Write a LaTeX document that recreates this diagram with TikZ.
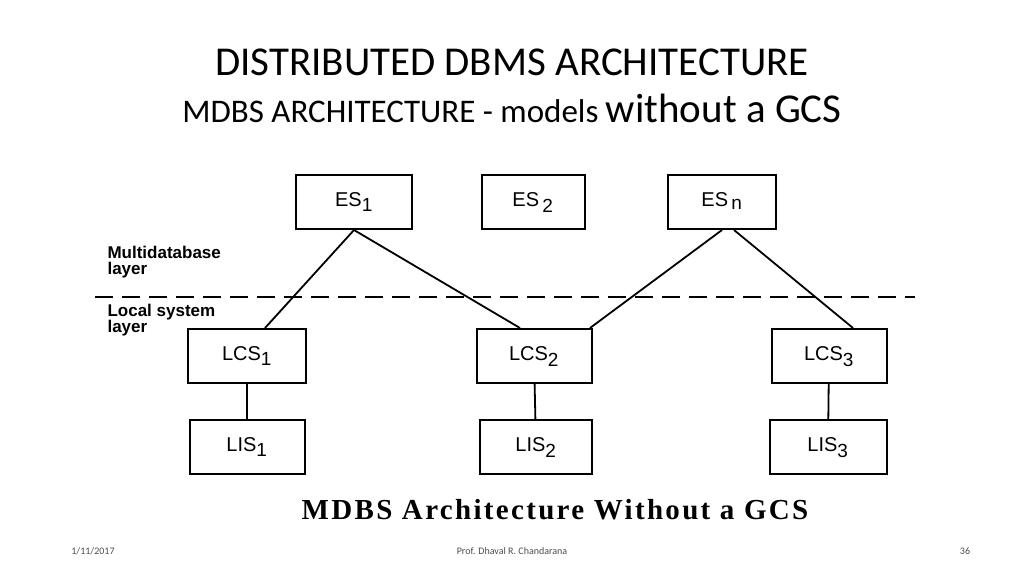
\documentclass[tikz,border=0pt]{standalone}
\usepackage{fontspec}
\setmainfont{Carlito}
\newfontfamily\boxfont{Liberation Sans}
\newfontfamily\capfont[LetterSpace=8]{Liberation Serif}
\usetikzlibrary{positioning}
\newcommand{\sub}[1]{\textsubscript{\fontsize{19}{19}\selectfont #1}}
\tikzset{
    sys_box/.style={rectangle, draw=black, line width=2pt, minimum width=112pt, minimum height=54pt, text height=14pt, text depth=6pt, text centered, font=\boxfont\fontsize{20}{22}\selectfont},
    layer_text/.style={align=left, anchor=north west, font=\boxfont\bfseries\fontsize{17}{17}\selectfont},
    line/.style={line width=1.8pt},
    footer/.style={font=\fontsize{10}{12}\selectfont, text=black!70},
}
\begin{document}
\begin{tikzpicture}[x=1pt, y=-1pt]
      \useasboundingbox (0,0) rectangle (1024,576);
      %%%%%%%%%
      % Title %
      %%%%%%%%%
      \node (title) at (512,62) {\fontsize{41}{46}\selectfont DISTRIBUTED DBMS ARCHITECTURE};
      \node (subtitle) at (512,108) {\fontsize{33}{38}\selectfont MDBS ARCHITECTURE - models \fontsize{41}{46}\selectfont without a GCS};

      %%%%%%%%%%%%%
      % Ext. sch. %
      %%%%%%%%%%%%%
      \node (es1) [sys_box, minimum width=116pt] at (354,202) {ES\sub{1}};
      \node (es2) [sys_box, minimum width=103pt] at (533,202) {ES\,\sub{2}};
      \node (esn) [sys_box, minimum width=108pt] at (722,202) {ES\,\sub{n}};

      \node (lcs1) [sys_box, minimum width=118pt] at (247,356) {LCS\sub{1}};
      \node (lcs2) [sys_box, minimum width=115pt] at (534,356) {LCS\sub{2}};
      \node (lcs3) [sys_box, minimum width=115pt] at (829,356) {LCS\sub{3}};

      \node (lis1) [sys_box, minimum width=115pt] at (247,447) {LIS\sub{1}};
      \node (lis2) [sys_box] at (536,447) {LIS\sub{2}};
      \node (lis3) [sys_box, minimum width=117pt] at (828,447) {LIS\sub{3}};

      \node (multi) [layer_text] at (104,243) {Multidatabase\\[-1pt]layer};
      \node (local) [layer_text] at (104,301) {Local system\\[-1pt]layer};

      \coordinate (dash_l) at (95,297);
      \coordinate (dash_r) at (915,297);
      \draw [line, dash pattern=on 18pt off 9pt] (dash_l) -- (dash_r);

      \draw [line] (es1.south) -- ([xshift=18pt]lcs1.north);
      \draw [line] (es1.south) -- ([xshift=-14pt]lcs2.north);
      \draw [line] (esn.south) -- ([xshift=56pt]lcs2.north);
      \draw [line] ([xshift=12pt]esn.south) -- ([xshift=24pt]lcs3.north);
      \draw [line] (lcs1) -- (lis1);
      \draw [line] (lcs2) -- (lis2);
      \draw [line] (lcs3) -- (lis3);

      \node (caption) at (555,510) {\capfont\bfseries\fontsize{29}{32}\selectfont MDBS Architecture Without a GCS};

      \node (date) [footer] at (93,551) {1/11/2017};
      \node (author) [footer] at (512,551) {Prof. Dhaval R. Chandarana};
      \node (page) [footer] at (965,551) {36};
\end{tikzpicture}
\end{document}
